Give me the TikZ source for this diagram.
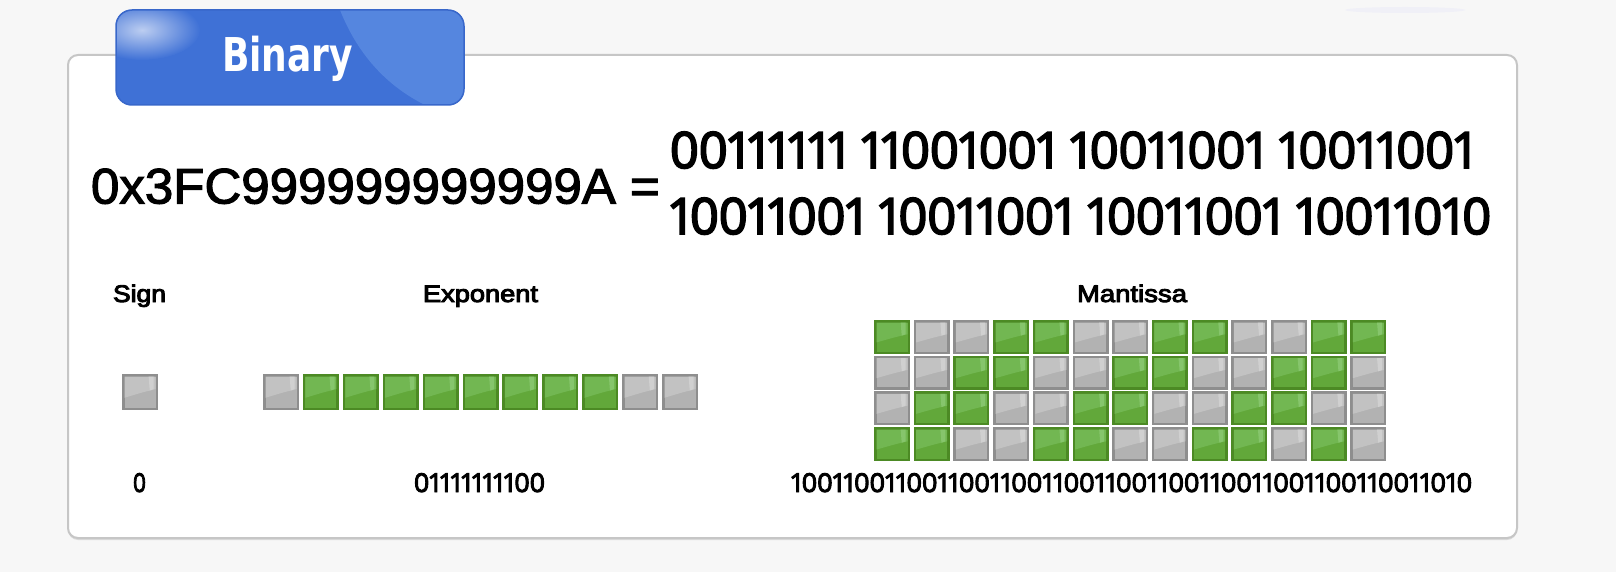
\documentclass[tikz,border=0pt]{standalone}
\usepackage{fontspec}
\usepackage{graphicx}
\setmainfont{Liberation Sans}
\newfontfamily\hexf{Liberation Sans}
\newfontfamily\binf{Open Sans}[Numbers=Proportional]
\newfontfamily\tabf{DejaVu Sans}
\newcommand\heavier[2]{\special{pdf:literal direct 2 Tr #1 w}#2\special{pdf:literal direct 0 Tr}}
\definecolor{bg}{HTML}{F7F7F7}
\definecolor{panelline}{HTML}{C6C6C6}
\definecolor{tabBase}{HTML}{3F71D6}
\definecolor{tabLight}{HTML}{5586DF}
\definecolor{tabEdge}{HTML}{3867CA}
\definecolor{gB}{HTML}{4C8A24}
\definecolor{gT}{HTML}{72B752}
\definecolor{gL}{HTML}{62A83A}
\definecolor{gH}{HTML}{86C56C}
\definecolor{sB}{HTML}{8E8E8E}
\definecolor{sT}{HTML}{C2C2C2}
\definecolor{sL}{HTML}{B2B2B2}
\definecolor{sH}{HTML}{D0D0D0}
\newcommand\bitcell[5]{%
  \fill[#5B] (#1,#2) rectangle ++(#3,#4);
  \fill[#5L] (#1+2.5,#2+2.5) rectangle (#1+#3-2.5,#2+#4-2.5);
  \fill[#5T] (#1+2.5,#2+2.5) -- (#1+#3-2.5,#2+2.5) -- (#1+#3-2.5,#2+0.42*#4)
     .. controls (#1+0.6*#3,#2+0.5*#4) .. (#1+2.5,#2+0.66*#4) -- cycle;
  \fill[#5H] (#1+0.74*#3,#2+2.5) -- (#1+0.88*#3,#2+2.5) -- (#1+0.88*#3,#2+0.42*#4)
     -- (#1+0.77*#3,#2+0.46*#4) -- cycle;
}
\tikzset{txt/.style={inner sep=0pt, anchor=base}}
\begin{document}
\begin{tikzpicture}[x=1pt,y=-1pt]
\useasboundingbox (0,0) rectangle (1616,572);
\fill[bg] (0,0) rectangle (1616,572);
\fill[blue!3!bg] (1405,10) ellipse (60 and 3);
% panel
\fill[black!14, rounded corners=10] (68,57) rectangle (1517,540);
\draw[panelline, line width=2pt, fill=white, rounded corners=10] (68,55) rectangle (1517,538);
% tab
\begin{scope}
\path[clip, rounded corners=16] (116,10) rectangle (464,105);
\fill[tabBase] (116,10) rectangle (464,105);
\fill[tabLight] (340,10) .. controls (352,40) and (375,80) .. (425,105) -- (464,105) -- (464,10) -- cycle;
\shade[inner color=white!65!tabBase, outer color=tabBase] (142,30) ellipse (58 and 30);
\end{scope}
\draw[tabEdge, line width=1.5pt, rounded corners=16] (116,10) rectangle (464,105);
\node[txt, text=white] (tab) at (287.5,72) {\resizebox{131pt}{\height}{\tabf\bfseries\fontsize{46.6}{56}\selectfont Binary}};
% main text
\node[txt] (hex) at (375.5,203.5) {\resizebox{569pt}{\height}{\hexf\fontsize{50}{60}\selectfont\heavier{1.1}{0x3FC999999999999A =}}};
\node[txt] (bin1) at (1072,168) {\resizebox{804pt}{\height}{\binf\fontsize{50}{60}\selectfont\heavier{1.7}{00111111 11001001 10011001 10011001}}};
\node[txt] (bin2) at (1080.5,234) {\resizebox{821pt}{\height}{\binf\fontsize{50}{60}\selectfont\heavier{1.7}{10011001 10011001 10011001 10011010}}};
% labels
\node[txt] (lsign) at (139.5,302) {\resizebox{53pt}{\height}{\fontsize{24}{29}\selectfont\heavier{0.9}{Sign}}};
\node[txt] (lexp) at (480.5,302) {\resizebox{115pt}{\height}{\fontsize{24}{29}\selectfont\heavier{0.9}{Exponent}}};
\node[txt] (lman) at (1132,302) {\resizebox{110pt}{\height}{\fontsize{24}{29}\selectfont\heavier{0.9}{Mantissa}}};
% bits
\bitcell{122}{374}{36}{36}{s}
\foreach \b [count=\c from 0] in {0,1,1,1,1,1,1,1,1,0,0} {
  \pgfmathsetmacro\cx{263+\c*39.9}
  \ifnum\b=1 \bitcell{\cx}{374}{36}{36}{g}\else\bitcell{\cx}{374}{36}{36}{s}\fi
}
\foreach \row [count=\r from 0] in {{1,0,0,1,1,0,0,1,1,0,0,1,1},{0,0,1,1,0,0,1,1,0,0,1,1,0},{0,1,1,0,0,1,1,0,0,1,1,0,0},{1,1,0,0,1,1,0,0,1,1,0,1,0}} {
  \foreach \b [count=\c from 0] in \row {
    \pgfmathsetmacro\cx{874+\c*39.7}
    \pgfmathsetmacro\cy{320+\r*35.7}
    \ifnum\b=1 \bitcell{\cx}{\cy}{36}{34}{g}\else\bitcell{\cx}{\cy}{36}{34}{s}\fi
  }
}
% values
\node[txt] (vsign) at (139.5,492) {\resizebox{13pt}{\height}{\binf\fontsize{26}{31}\selectfont\heavier{0.9}{0}}};
\node[txt] (vexp) at (479.5,492) {\resizebox{131pt}{\height}{\binf\fontsize{26}{31}\selectfont\heavier{0.9}{01111111100}}};
\node[txt] (vman) at (1131.5,492) {\resizebox{681pt}{\height}{\binf\fontsize{26}{31}\selectfont\heavier{0.9}{1001100110011001100110011001100110011001100110011010}}};
\end{tikzpicture}
\end{document}
